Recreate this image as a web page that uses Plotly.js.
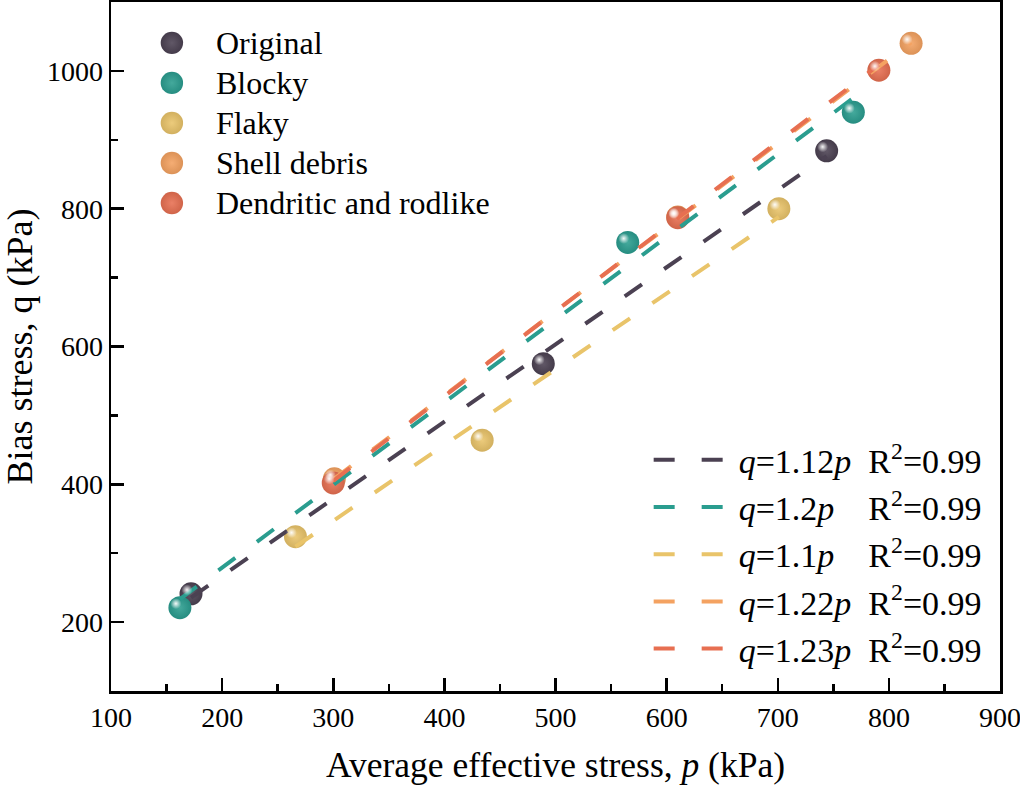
<!DOCTYPE html>
<html>
<head>
<meta charset="utf-8">
<script src="https://cdn.plot.ly/plotly-3.0.1.min.js"></script>
<style>
  html, body { margin: 0; padding: 0; background: #ffffff; }
  #chart { width: 1020px; height: 790px; }
</style>
</head>
<body>
<div id="chart"></div>
<script>
// Particle-shape groups and their colours
const groups = ['Original', 'Blocky', 'Flaky', 'Shell debris', 'Dendritic and rodlike'];
const colors = ['#4b4152', '#2a9d8f', '#e9c46a', '#f4a261', '#e76f51'];

// Failure points: average effective stress p (kPa) and bias stress q (kPa)
const pOriginal = [172, 489, 744];
const qOriginal = [241, 575, 884];
const pBlocky = [162, 565, 768];
const qBlocky = [221, 751, 940];
const pFlaky = [266, 434, 701];
const qFlaky = [324, 464, 800];
const pShell = [301, 610, 820];
const qShell = [408, 788, 1040];
const pDendritic = [300, 610, 791];
const qDendritic = [402, 787, 1001];

// Fitted critical-state lines q = slope * p + intercept
const slopes = [1.12, 1.2, 1.1, 1.22, 1.23];
const intercepts = [43, 39, 17, 41, 36];
const rSquared = [0.99, 0.99, 0.99, 0.99, 0.99];

// Axis ticks
const xTicks = [100, 200, 300, 400, 500, 600, 700, 800, 900];
const yTicks = [200, 400, 600, 800, 1000];

const pSets = [pOriginal, pBlocky, pFlaky, pShell, pDendritic];
const qSets = [qOriginal, qBlocky, qFlaky, qShell, qDendritic];

const FONT = 'Liberation Serif, Times New Roman, serif';

function shade(hex, f) {
  const n = parseInt(hex.slice(1), 16);
  const r = (n >> 16) & 255, g = (n >> 8) & 255, b = n & 255;
  const mix = c => Math.round(f < 0 ? c * (1 + f) : c + (255 - c) * f);
  return 'rgb(' + mix(r) + ',' + mix(g) + ',' + mix(b) + ')';
}

function fitLabel(i) {
  // pad shorter coefficients so the R² column lines up
  const s = String(slopes[i]);
  const pad = s.length < 4 ? '\u00A0\u00A0\u00A0\u00A0' : '\u00A0\u00A0';
  return '<i>q</i>=' + s + '<i>p</i>' + pad + 'R<sup>2</sup>=' + rSquared[i].toFixed(2);
}

const traces = [];

// Spheres
groups.forEach((name, i) => {
  traces.push({
    type: 'scatter', mode: 'markers', name: name, legend: 'legend',
    x: pSets[i], y: qSets[i],
    marker: {
      size: 23, color: shade(colors[i], -0.1),
      gradient: { type: 'radial', color: shade(colors[i], 0.12) },
      line: { width: 0 }
    },
    hoverinfo: 'skip'
  });
});

// Fitted dashed lines over the data range of each group
groups.forEach((name, i) => {
  const lo = Math.min(...pSets[i]);
  const hi = Math.max(...pSets[i]);
  traces.push({
    type: 'scatter', mode: 'lines', name: fitLabel(i), legend: 'legend2',
    x: [lo, hi], y: [slopes[i] * lo + intercepts[i], slopes[i] * hi + intercepts[i]],
    line: { color: colors[i], width: 4, dash: '21px,27px' },
    hoverinfo: 'skip'
  });
});

// Specular highlights, drawn on a slightly shifted overlay so they sit up-left
groups.forEach((name, i) => {
  traces.push({
    type: 'scatter', mode: 'markers', showlegend: false,
    xaxis: 'x2', yaxis: 'y2',
    x: pSets[i], y: qSets[i],
    marker: {
      size: 11, color: 'rgba(255,255,255,0)',
      gradient: { type: 'radial', color: 'rgba(255,255,255,0.95)' },
      line: { width: 0 }
    },
    hoverinfo: 'skip'
  });
});

const axisCommon = {
  showgrid: false, zeroline: false,
  showline: true, linecolor: '#000', linewidth: 2.5, mirror: true,
  ticks: 'inside', ticklen: 13, tickwidth: 2.5, tickcolor: '#000',
  ticklabeloverflow: 'allow',
  tickfont: { family: FONT, size: 28, color: '#000' }
};

const layout = {
  width: 1020, height: 790,
  paper_bgcolor: '#ffffff', plot_bgcolor: '#ffffff',
  margin: { l: 111, r: 20, t: 2, b: 99 },
  font: { family: FONT, color: '#000' },
  xaxis: Object.assign({}, axisCommon, {
    range: [100, 900], tickmode: 'array', tickvals: xTicks, ticktext: xTicks.map(String),
    minor: { ticks: 'inside', ticklen: 7, tickwidth: 2.5, tickcolor: '#000', dtick: 50, tick0: 100 },
    title: { text: 'Average effective stress, <i>p</i> (kPa)', font: { family: FONT, size: 35.5, color: '#000' }, standoff: 20 }
  }),
  yaxis: Object.assign({}, axisCommon, {
    range: [100, 1100], tickmode: 'array', tickvals: yTicks, ticktext: yTicks.map(String),
    minor: { ticks: 'inside', ticklen: 7, tickwidth: 2.5, tickcolor: '#000', dtick: 100, tick0: 100 },
    title: { text: 'Bias stress, q (kPa)', font: { family: FONT, size: 36, color: '#000' }, standoff: 12 }
  }),
  xaxis2: { overlaying: 'x', range: [103.6, 903.6], visible: false, fixedrange: true },
  yaxis2: { overlaying: 'y', range: [94.2, 1094.2], visible: false, fixedrange: true },
  legend: {
    x: 0.019, y: 0.977, xanchor: 'left', yanchor: 'top',
    bgcolor: 'rgba(0,0,0,0)', borderwidth: 0,
    font: { family: FONT, size: 28.5, color: '#000' },
    itemwidth: 78, tracegroupgap: 0
  },
  legend2: {
    x: 0.985, y: 0.02, xanchor: 'right', yanchor: 'bottom',
    bgcolor: 'rgba(0,0,0,0)', borderwidth: 0,
    font: { family: FONT, size: 34, color: '#000' },
    itemwidth: 80, tracegroupgap: 0
  },
  showlegend: true
};

Plotly.newPlot('chart', traces, layout, { staticPlot: true, displayModeBar: false }).then(gd => {
  const key = gd.querySelector('.legend');
  if (!key) return;
  // enlarge the legend spheres to the size used in the plot area
  key.querySelectorAll('.legendpoints path.scatterpts').forEach(el => {
    const t = el.getAttribute('transform') || '';
    el.setAttribute('transform', t + ' scale(1.4)');
  });
  // compact row pitch for the group key, names drawn at full size
  key.querySelectorAll('text.legendtext').forEach(el => {
    el.style.fontSize = '32px';
  });
  // the key box was sized for the smaller text; let the names run past it
  key.querySelectorAll('[clip-path]').forEach(el => el.removeAttribute('clip-path'));
});
</script>
</body>
</html>
